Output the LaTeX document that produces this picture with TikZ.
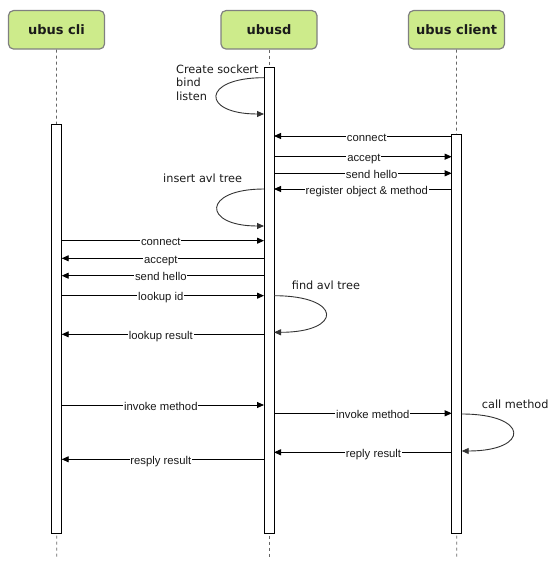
\documentclass[tikz,border=0pt]{standalone}
\usepackage{fontspec}
\setmainfont{Liberation Sans}
\newfontfamily\notefont{DejaVu Sans}
\usetikzlibrary{arrows.meta}
\definecolor{hdrfill}{HTML}{CDEB8B}
\definecolor{hdrline}{HTML}{808080}
\definecolor{txt}{HTML}{1A1A1A}
\tikzset{
  hdr/.style={draw=hdrline, line width=1.2pt, fill=hdrfill, rounded corners=5pt,
    minimum width=96pt, minimum height=38.5pt, inner sep=0pt,
    font=\notefont\bfseries\fontsize{13}{15}\selectfont, text=txt},
  life/.style={draw=gray!80!black, line width=0.8pt, dash pattern=on 3pt off 3pt},
  actbar/.style={draw=black, fill=white, line width=0.9pt, minimum width=10pt,
    inner sep=0pt, outer sep=0pt, anchor=north},
  msg/.style={draw=black, line width=0.9pt, -{Triangle[length=7pt,width=6pt]}},
  selfmsg/.style={draw=black!80, line width=0.9pt, -{Triangle[length=7pt,width=6pt]}},
  lbl/.style={fill=white, inner sep=0.8pt, text height=8.2pt, text depth=2.4pt,
    yshift=-2.1pt, font=\fontsize{11.3}{13}\selectfont, text=txt},
  note/.style={inner sep=0pt, font=\notefont\fontsize{11.3}{13.8}\selectfont, text=txt}
}
\begin{document}
\begin{tikzpicture}[x=1pt, y=-1pt]
\useasboundingbox (0,0) rectangle (554,575);
% headers
\node[hdr] (cli) at (56.5,29.8) {ubus cli};
\node[hdr] (sd) at (269,29.8) {ubusd};
\node[hdr] (cl) at (456.5,29.8) {ubus client};
% lifeline ends
\coordinate (cliEnd) at (56.7,559);
\coordinate (sdEnd) at (269,559);
\coordinate (clEnd) at (456.7,559);
\draw[life] (cli.south) -- (cliEnd);
\draw[life] (sd.south) -- (sdEnd);
\draw[life] (cl.south) -- (clEnd);
% activation bars
\node[actbar, minimum height=408.7pt] (cliBar) at (56.7,124.3) {};
\node[actbar, minimum height=465.3pt] (sdBar) at (269,67.7) {};
\node[actbar, minimum height=399pt] (clBar) at (456.7,134) {};
% self message: create socket
\node[note, anchor=north west, align=left] (n1) at (176,64.4) {Create sockert\\bind\\listen};
\draw[selfmsg] (sdBar.west |- 0,77.7) .. controls (201,77.7) and (201,114) .. (sdBar.west |- 0,114);
% client registration
\draw[msg] (clBar.west |- 0,136) -- node[lbl, pos=0.478] {connect} (sdBar.east |- 0,136);
\draw[msg] (sdBar.east |- 0,156.7) -- node[lbl, pos=0.506] {accept} (clBar.west |- 0,156.7);
\draw[msg] (sdBar.east |- 0,173.3) -- node[lbl, pos=0.55] {send hello} (clBar.west |- 0,173.3);
\draw[msg] (clBar.west |- 0,189) -- node[lbl, pos=0.478] {register object \& method} (sdBar.east |- 0,189);
% insert avl tree
\node[note, anchor=base west] (n2) at (163,182.7) {insert avl tree};
\draw[selfmsg] (sdBar.west |- 0,189) .. controls (202,189) and (202,226) .. (sdBar.west |- 0,226);
% cli session
\draw[msg] (cliBar.east |- 0,240.7) -- node[lbl, pos=0.49] {connect} (sdBar.west |- 0,240.7);
\draw[msg] (sdBar.west |- 0,258.3) -- node[lbl, pos=0.51] {accept} (cliBar.east |- 0,258.3);
\draw[msg] (sdBar.west |- 0,275.7) -- node[lbl, pos=0.51] {send hello} (cliBar.east |- 0,275.7);
\draw[msg] (cliBar.east |- 0,295.7) -- node[lbl, pos=0.49] {lookup id} (sdBar.west |- 0,295.7);
% find avl tree
\node[note, anchor=base west] (n3) at (291.7,289.3) {find avl tree};
\draw[selfmsg] (sdBar.east |- 0,295.7) .. controls (343,295.7) and (343,332.3) .. (sdBar.east |- 0,332.3);
\draw[msg] (sdBar.west |- 0,334.3) -- node[lbl, pos=0.51] {lookup result} (cliBar.east |- 0,334.3);
% invoke
\draw[msg] (cliBar.east |- 0,405) -- node[lbl, pos=0.49] {invoke method} (sdBar.west |- 0,405);
\draw[msg] (sdBar.east |- 0,413.3) -- node[lbl, pos=0.556] {invoke method} (clBar.west |- 0,413.3);
\node[note, anchor=base west] (n4) at (481.7,408.3) {call method};
\draw[selfmsg] (clBar.east |- 0,414) .. controls (530,414) and (530,451) .. (clBar.east |- 0,451);
\draw[msg] (clBar.west |- 0,452.3) -- node[lbl, pos=0.44] {reply result} (sdBar.east |- 0,452.3);
\draw[msg] (sdBar.west |- 0,459.3) -- node[lbl, pos=0.51] {resply result} (cliBar.east |- 0,459.3);
\end{tikzpicture}
\end{document}
